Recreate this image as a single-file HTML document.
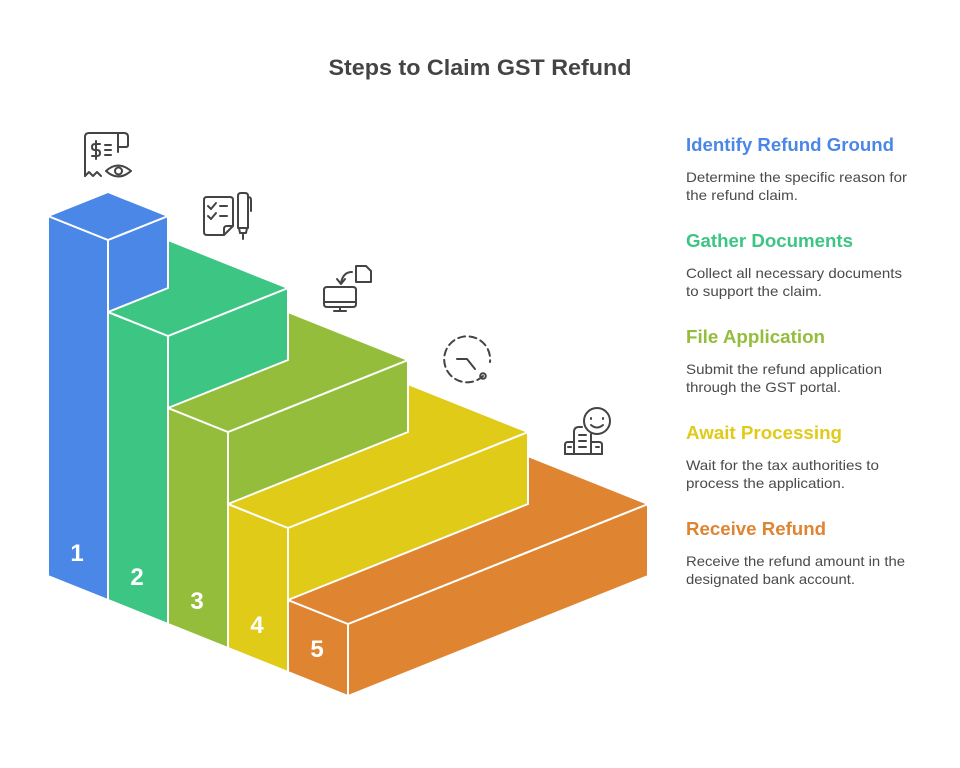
<!DOCTYPE html>
<html>
<head>
<meta charset="utf-8">
<style>
html,body{margin:0;padding:0;background:#fff;}
svg{display:block;}
text{font-family:"Liberation Sans",sans-serif;}
</style>
</head>
<body>
<svg width="960" height="768" viewBox="0 0 960 768" xmlns="http://www.w3.org/2000/svg">
<rect width="960" height="768" fill="#fff"/>
<text x="480" y="75" text-anchor="middle" font-size="22" font-weight="bold" fill="#444" textLength="303" lengthAdjust="spacingAndGlyphs">Steps to Claim GST Refund</text>

<g stroke="#fff" stroke-width="2" stroke-linejoin="round">
  <!-- Box 5 orange -->
  <g fill="#DF8431">
    <polygon points="48,504 348,624 348,696 48,576"/>
    <polygon points="348,624 648,504 648,576 348,696"/>
    <polygon points="48,504 348,624 648,504 348,384"/>
  </g>
  <!-- Box 4 yellow -->
  <g fill="#DFCB18">
    <polygon points="48,432 288,528 288,672 48,576"/>
    <polygon points="288,528 528,432 528,504 288,600"/>
    <polygon points="48,432 288,528 528,432 288,336"/>
  </g>
  <!-- Box 3 olive -->
  <g fill="#93BD3A">
    <polygon points="48,360 228,432 228,648 48,576"/>
    <polygon points="228,432 408,360 408,432 228,504"/>
    <polygon points="48,360 228,432 408,360 228,288"/>
  </g>
  <!-- Box 2 green -->
  <g fill="#3DC584">
    <polygon points="48,288 168,336 168,624 48,576"/>
    <polygon points="168,336 288,288 288,360 168,408"/>
    <polygon points="48,288 168,336 288,288 168,240"/>
  </g>
  <!-- Box 1 blue -->
  <g fill="#4B87E6">
    <polygon points="48,216 108,240 108,600 48,576"/>
    <polygon points="108,240 168,216 168,288 108,312"/>
    <polygon points="48,216 108,240 168,216 108,192"/>
  </g>
</g>

<g font-size="24" font-weight="bold" fill="#fff" text-anchor="middle">
  <text x="77" y="561">1</text>
  <text x="137" y="585">2</text>
  <text x="197" y="609">3</text>
  <text x="257" y="633">4</text>
  <text x="317" y="657">5</text>
</g>

<!-- Icons -->
<g fill="none" stroke="#444" stroke-width="2" stroke-linecap="round" stroke-linejoin="round">
  <!-- Icon 1: receipt with $ and eye -->
  <path d="M85,176 L85,137 Q85,133 89,133 L124,133"/>
  <path d="M118,133 L118,152"/>
  <path d="M118,133 Q118,133 124,133 Q128,133 128,137 L128,145 Q128,147 126,147 L118,147"/>
  <path d="M85,176 L89,172 L93,176 L97,172 L101,176"/>
  <path d="M100,144 L95,144 Q92,144 92,147 Q92,150 95,150 L97,150 Q100,150 100,153 Q100,156 97,156 L92,156 M96,141 L96,159"/>
  <path d="M105,145 L111,145 M105,150 L111,150 M105,155 L111,155"/>
  <path d="M106,171 Q118,160 131,171 Q118,182 106,171 Z"/>
  <circle cx="118.5" cy="171" r="3.5"/>

  <!-- Icon 2: checklist and pen -->
  <path d="M224,235 L207,235 Q204,235 204,232 L204,200 Q204,197 207,197 L230,197 Q233,197 233,200 L233,226 Z"/>
  <path d="M224,235 L224,229 Q224,226 227,226 L233,226"/>
  <path d="M208,206 L211,209 L216,203 M220,206 L227,206"/>
  <path d="M208,216 L211,219 L216,213 M220,216 L227,216"/>
  <path d="M238,196 Q238,193 241,193 L245,193 Q248,193 248,196 L248,228 L238,228 Z"/>
  <path d="M248,197 Q251,197 251,200 L251,211"/>
  <path d="M239,228 L240,233 L246,233 L247,228 M243,233 L243,239"/>

  <!-- Icon 3: monitor, arrow, doc -->
  <path d="M327,287 L353,287 Q356,287 356,290 L356,304 Q356,307 353,307 L327,307 Q324,307 324,304 L324,290 Q324,287 327,287 Z"/>
  <path d="M324,302 L356,302"/>
  <path d="M340,307 L340,311 M334,311 L346,311"/>
  <path d="M356,266 L366,266 L371,271 L371,282 L356,282 Z"/>
  <path d="M352,272 Q343,272 341,283"/>
  <path d="M337,279 L341,284 L345,279"/>

  <!-- Icon 4: dashed clock -->
  <path d="M483,376 A23,23 0 1 1 490,362" stroke-dasharray="7,4.5"/>
  <path d="M457,359 L467,359 L475,369"/>
  <circle cx="483" cy="376" r="2.8"/>

  <!-- Icon 5: building and smiley -->
  <circle cx="597" cy="421" r="13"/>
  <path d="M591,418 L591,419 M603,418 L603,419"/>
  <path d="M591,425 Q597,430 603,425"/>
  <path d="M574,454 L574,432 Q574,427 579,427 L582,427"/>
  <path d="M565,454 L565,445 Q565,442 568,442 L574,442"/>
  <path d="M591,442 L599,442 Q602,442 602,445 L602,454"/>
  <path d="M565,454 L602,454 M591,434 L591,454"/>
  <path d="M579,435 L586,435 M579,441 L586,441 M579,447 L586,447 M568,447 L571,447 M596,447 L599,447"/>
</g>

<!-- Right side text -->
<g font-size="18" font-weight="bold">
  <text x="686" y="151" fill="#4B87E6" textLength="208" lengthAdjust="spacingAndGlyphs">Identify Refund Ground</text>
  <text x="686" y="247" fill="#3DC584" textLength="167" lengthAdjust="spacingAndGlyphs">Gather Documents</text>
  <text x="686" y="343" fill="#93BD3A" textLength="139" lengthAdjust="spacingAndGlyphs">File Application</text>
  <text x="686" y="439" fill="#DFCB18" textLength="156" lengthAdjust="spacingAndGlyphs">Await Processing</text>
  <text x="686" y="535" fill="#DF8431" textLength="140" lengthAdjust="spacingAndGlyphs">Receive Refund</text>
</g>
<g font-size="14" fill="#4a4a4a">
  <text x="686" y="182" textLength="221" lengthAdjust="spacingAndGlyphs">Determine the specific reason for</text>
  <text x="686" y="200" textLength="112" lengthAdjust="spacingAndGlyphs">the refund claim.</text>
  <text x="686" y="278" textLength="216" lengthAdjust="spacingAndGlyphs">Collect all necessary documents</text>
  <text x="686" y="296" textLength="136" lengthAdjust="spacingAndGlyphs">to support the claim.</text>
  <text x="686" y="374" textLength="196" lengthAdjust="spacingAndGlyphs">Submit the refund application</text>
  <text x="686" y="392" textLength="155" lengthAdjust="spacingAndGlyphs">through the GST portal.</text>
  <text x="686" y="470" textLength="193" lengthAdjust="spacingAndGlyphs">Wait for the tax authorities to</text>
  <text x="686" y="488" textLength="159" lengthAdjust="spacingAndGlyphs">process the application.</text>
  <text x="686" y="566" textLength="219" lengthAdjust="spacingAndGlyphs">Receive the refund amount in the</text>
  <text x="686" y="584" textLength="169" lengthAdjust="spacingAndGlyphs">designated bank account.</text>
</g>
</svg>
</body>
</html>
